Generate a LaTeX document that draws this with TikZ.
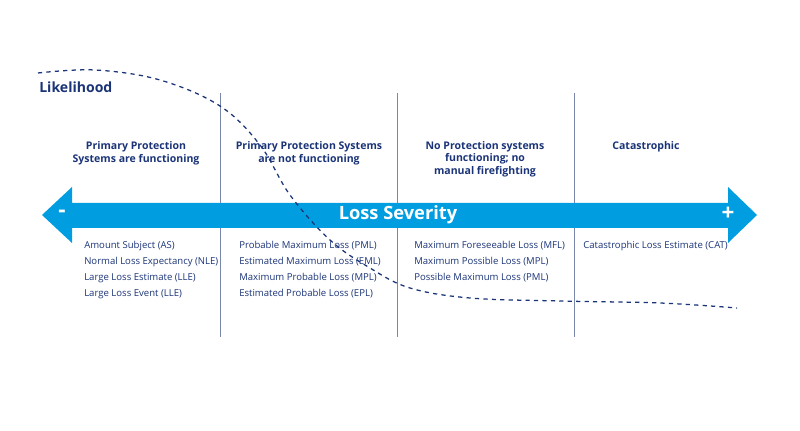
\documentclass[tikz,border=0pt]{standalone}
\usepackage{fontspec}
\setmainfont{Open Sans}
\definecolor{navy}{RGB}{27, 52, 120}
\definecolor{sevblue}{RGB}{0, 158, 224}
\definecolor{rulegray}{RGB}{120, 135, 170}
\tikzset{
  head/.style={font=\fontsize{7.5}{9}\selectfont\bfseries, text=navy, align=center},
  item/.style={font=\fontsize{6.8}{8}\selectfont, text=navy, anchor=west, inner sep=0pt},
  sign/.style={font=\fontsize{16}{16}\selectfont\bfseries, text=white}
}
\begin{document}
\begin{tikzpicture}[x=0.025cm, y=-0.025cm]
            \useasboundingbox (0,0) rectangle (800,431);

            % column rules
            \foreach \x in {220,397,574} {
                \draw[rulegray, line width=0.5pt] (\x,93) -- (\x,337);
            }

            % severity arrow
            \fill[sevblue] (42,215) -- (72,187) -- (72,203) -- (728,203) -- (728,187)
                -- (757,215) -- (728,243) -- (728,228) -- (72,228) -- (72,243) -- cycle;
            \node[font=\fontsize{13}{13}\selectfont\bfseries, text=white] (sev) at (398,215) {Loss Severity};
            \node[sign] (minus) at (62,214) {-};
            \node[sign] (plus) at (728,214) {+};

            % likelihood curve
            \draw[navy, dashed, line width=0.9pt] plot[smooth, tension=0.6] coordinates
                {(38,73) (95,70) (160,80) (220,106) (260,145) (290,195) (330,240)
                 (370,268) (410,288) (470,298) (560,301) (660,303) (737,308)};
            \node[font=\fontsize{10}{10}\selectfont\bfseries, text=navy, anchor=west, inner sep=0pt] (lik) at (39,87) {Likelihood};

            % headers
            \node[head] (h1) at (136,153) {Primary Protection\\Systems are functioning};
            \node[head] (h2) at (309,153) {Primary Protection Systems\\are not functioning};
            \node[head] (h3) at (485,159) {No Protection systems\\functioning; no\\manual firefighting};
            \node[head] (h4) at (646,147) {Catastrophic};

            % loss measures
            \node[item] (a1) at (84,246) {Amount Subject (AS)};
            \node[item] (a2) at (84,262) {Normal Loss Expectancy (NLE)};
            \node[item] (a3) at (84,278) {Large Loss Estimate (LLE)};
            \node[item] (a4) at (84,294) {Large Loss Event (LLE)};

            \node[item] (b1) at (239,246) {Probable Maximum Loss (PML)};
            \node[item] (b2) at (239,262) {Estimated Maximum Loss (EML)};
            \node[item] (b3) at (239,278) {Maximum Probable Loss (MPL)};
            \node[item] (b4) at (239,294) {Estimated Probable Loss (EPL)};

            \node[item] (c1) at (414,246) {Maximum Foreseeable Loss (MFL)};
            \node[item] (c2) at (414,262) {Maximum Possible Loss (MPL)};
            \node[item] (c3) at (414,278) {Possible Maximum Loss (PML)};

            \node[item] (d1) at (583,246) {Catastrophic Loss Estimate (CAT)};
        \end{tikzpicture}
\end{document}
